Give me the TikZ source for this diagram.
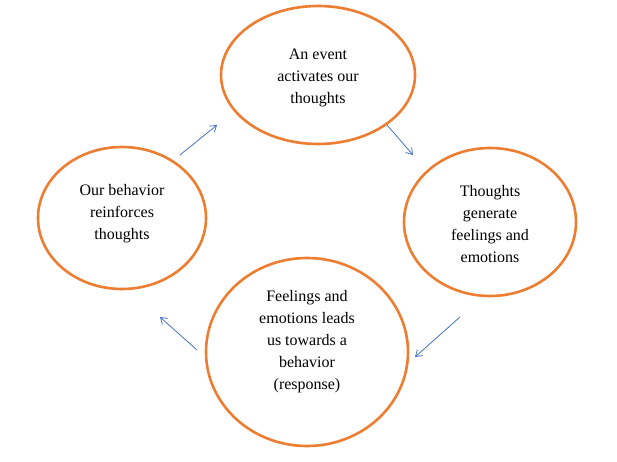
\documentclass[tikz,border=0pt]{standalone}
\usepackage{fontspec}
\setmainfont{Liberation Serif}
\usetikzlibrary{arrows.meta}
\begin{document}
\begin{tikzpicture}[x=1pt,y=-1pt,
  ell/.style={draw={rgb,255:red,237;green,125;blue,49},line width=2.6pt},
  txt/.style={align=center,font=\fontsize{16}{22}\selectfont},
  arr/.style={draw={rgb,255:red,68;green,114;blue,196},line width=0.8pt,-{Straight Barb[length=6pt,width=8pt]}}]
\useasboundingbox (0,0) rectangle (617,462);
\draw[ell] (318,75) ellipse (97 and 69);
\node[txt] (top) at (318,78) {An event\\activates our\\thoughts};
\draw[ell] (490,222) ellipse (86 and 74);
\node[txt] (right) at (490,224) {Thoughts\\generate\\feelings and\\emotions};
\draw[ell] (122,218) ellipse (84 and 71);
\node[txt] (left) at (122,214) {Our behavior\\reinforces\\thoughts};
\draw[ell] (307,352) ellipse (101 and 94);
\node[txt] (bot) at (307,342) {Feelings and\\emotions leads\\us towards a\\behavior\\(response)};
\coordinate (a1) at (180,155); \coordinate (a2) at (217,125);
\coordinate (b1) at (387,125); \coordinate (b2) at (413,155);
\coordinate (c1) at (460,317); \coordinate (c2) at (415,357);
\coordinate (d1) at (197,350); \coordinate (d2) at (160,317);
\draw[arr] (a1) -- (a2);
\draw[arr] (b1) -- (b2);
\draw[arr] (c1) -- (c2);
\draw[arr] (d1) -- (d2);
\end{tikzpicture}
\end{document}
